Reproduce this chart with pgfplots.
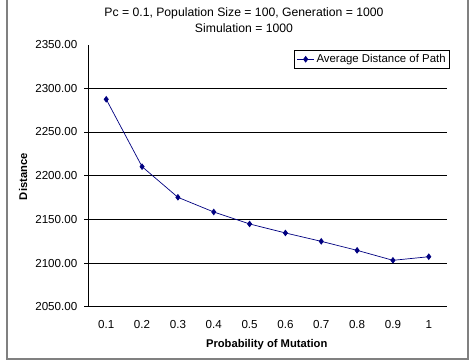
\documentclass[border=0pt]{standalone}
\usepackage{pgfplots}
\pgfplotsset{compat=1.18}
\usepackage{fontspec}
\setmainfont{Liberation Sans}
\definecolor{navyline}{RGB}{0,0,128}
\definecolor{framegray}{RGB}{128,128,128}
\begin{document}
\begin{tikzpicture}[x=1pt,y=1pt]
\useasboundingbox (0,0) rectangle (474,364);
\draw[framegray,line width=1.5pt] (7,366) -- (7,5) -- (468,5) -- (468,366);
\begin{axis}[
  at={(88.3pt,57.3pt)}, anchor=south west,
  scale only axis, width=358.4pt, height=262.1pt,
  xmin=0.5, xmax=10.5, ymin=2050, ymax=2350,
  axis x line*=bottom, axis y line*=left,
  axis line style={-, black, line width=0.8pt},
  xtick={1,...,10},
  xticklabels={0.1,0.2,0.3,0.4,0.5,0.6,0.7,0.8,0.9,1},
  x tick style={draw=none},
  extra x ticks={0.5,1.5,...,10.5},
  extra x tick labels={},
  extra x tick style={tick style={black, line width=0.8pt, draw=black}, major tick length=4pt, tick align=center},
  ytick={2050,2100,...,2300},
  extra y ticks={2350}, extra y tick style={tick style={draw=none}, grid=none},
  y tick style={black, line width=0.8pt}, major tick length=4pt,
  tick align=outside,
  ymajorgrids, grid style={black, line width=0.8pt},
  yticklabel style={/pgf/number format/fixed, /pgf/number format/fixed zerofill, /pgf/number format/precision=2, /pgf/number format/1000 sep={}, xshift=-3.5pt},
  /pgf/number format/assume math mode=true,
  tick label style={font=\fontsize{11.6}{13}\selectfont, text=black},
  xticklabel style={yshift=-6pt},
  legend style={at={(1.009,0.979)}, anchor=north east, draw=black, line width=0.6pt,
    font=\fontsize{11.4}{13}\selectfont, inner sep=2pt, row sep=0pt},
  legend cell align=left,
]
\addplot[navyline, line width=0.7pt, mark=diamond*, mark size=2.8pt, mark options={fill=navyline, draw=navyline}]
coordinates {(1,2287.4) (2,2210.3) (3,2175.2) (4,2158.4) (5,2144.7) (6,2134.4) (7,2124.8) (8,2114.5) (9,2103.1) (10,2107.2)};
\addlegendentry{Average Distance of Path}
\end{axis}
\node[font=\fontsize{12.2}{14}\selectfont] at (244,350.5) {Pc = 0.1, Population Size = 100, Generation = 1000};
\node[font=\fontsize{12.2}{14}\selectfont] at (244,336) {Simulation = 1000};
\node[font=\bfseries\fontsize{11.2}{13}\selectfont, rotate=90] at (23,187.3) {Distance};
\node[font=\bfseries\fontsize{11.2}{13}\selectfont] at (266.7,19) {Probability of Mutation};
\end{tikzpicture}
\end{document}
